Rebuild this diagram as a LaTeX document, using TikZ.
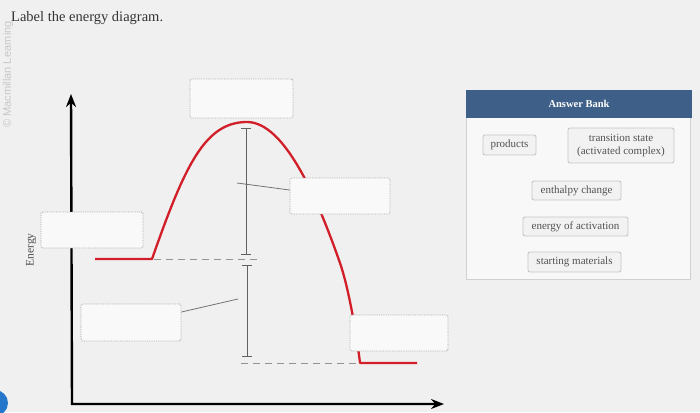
\documentclass[tikz,border=0pt]{standalone}
\usepackage{fontspec}
\setmainfont{Liberation Serif}
\newfontfamily\wmfont{Liberation Sans}
\usetikzlibrary{arrows.meta,calc}
\definecolor{bgc}{HTML}{EFF0EF}
\definecolor{hdr}{HTML}{3E5F87}
\definecolor{rc}{HTML}{D21E28}
\definecolor{dotb}{HTML}{A8A8A8}
\definecolor{dotblue}{HTML}{2577CC}
\begin{document}
\begin{tikzpicture}[x=1pt,y=-1pt,
  blank/.style={draw=dotb, densely dotted, fill=white!60!bgc, rounded corners=1.5pt, line width=0.8pt, inner sep=0pt},
  chip/.style={draw=black!22, fill=black!5, rounded corners=2pt, line width=0.9pt, text=black!68, font=\fontsize{11}{13.5}\selectfont, align=center, inner sep=0pt},
  axisline/.style={line width=2.4pt, {Stealth[length=13pt,width=10pt]}-{Stealth[length=13pt,width=10pt]}},
  reactline/.style={draw=rc, line width=2.3pt, line join=round},
  bar/.style={draw=black!62, line width=1pt},
  guide/.style={draw=black!42, line width=1pt, dash pattern=on 7pt off 5pt},
  leader/.style={draw=black!55, line width=0.8pt}]
\useasboundingbox (0,0) rectangle (700,412);
\fill[bgc] (0,0) rectangle (700,412);

% watermark and title
\node[font=\wmfont\fontsize{11}{12}\selectfont, text=black!22, rotate=90, anchor=west, inner sep=0pt] (wm) at (8,128) {\textcopyright{} Macmillan Learning};
\node[font=\fontsize{14.5}{16}\selectfont, text=black!80, anchor=west, inner sep=0pt] (title) at (11,18) {Label the energy diagram.};
\fill[dotblue] (-5,403) circle (13) coordinate (dot);

% axes
\coordinate (ytip) at (71,94);
\coordinate (O) at (72,404);
\coordinate (xtip) at (444,404);
\draw[axisline] (ytip) -- (O) -- (xtip);
\node[font=\fontsize{11.5}{12}\selectfont, text=black!70, rotate=90] (elab) at (31,250) {Energy};

% reaction profile
\draw[reactline] (95,259) -- (152,259) .. controls (185,165) and (205,122) .. (247,122)
  .. controls (285,122) and (318,200) .. (340,263)
  .. controls (348,286) and (356,330) .. (360,363) -- (417,363);

% bars and guide lines
\draw[guide] (154,259) -- (258,259);
\draw[guide] (241,363) -- (358,363);
\draw[bar] (241,128) -- (251,128) (246,128) -- (246,254) (241,254) -- (251,254);
\draw[bar] (242,265) -- (252,265) (247,265) -- (247,356) (242,356) -- (252,356);

% blank label boxes
\node[blank, minimum width=103pt, minimum height=39pt] (btop) at (241.5,98.5) {};
\node[blank, minimum width=102pt, minimum height=36pt] (bleft) at (92,230) {};
\node[blank, minimum width=100pt, minimum height=37pt] (blow) at (131,322.5) {};
\node[blank, minimum width=100pt, minimum height=36pt] (bmid) at (340,196) {};
\node[blank, minimum width=98pt, minimum height=36pt] (bright) at (399,333) {};

% leader lines
\coordinate (ea) at (237,183);
\coordinate (dh) at (238,299);
\draw[leader] (ea) -- ([yshift=6pt]bmid.west);
\draw[leader] ([yshift=10.5pt]blow.east) -- (dh);

% answer bank
\draw[draw=black!18, fill=white!55!bgc, line width=0.8pt] (466,90) rectangle (690,279);
\fill[hdr] (466,90) rectangle (692,118);
\node[font=\bfseries\fontsize{10.5}{12}\selectfont, text=white] (hdrtext) at (579,104) {Answer Bank};
\node[chip, minimum width=53pt, minimum height=20pt] (c1) at (509.5,145) {products};
\node[chip, minimum width=106pt, minimum height=35pt] (c2) at (621,145.5) {transition state\\(activated complex)};
\node[chip, minimum width=89pt, minimum height=19pt] (c3) at (576.5,190.5) {enthalpy change};
\node[chip, minimum width=105pt, minimum height=19pt] (c4) at (575.5,226.5) {energy of activation};
\node[chip, minimum width=93pt, minimum height=20pt] (c5) at (574.5,262) {starting materials};
\end{tikzpicture}
\end{document}
